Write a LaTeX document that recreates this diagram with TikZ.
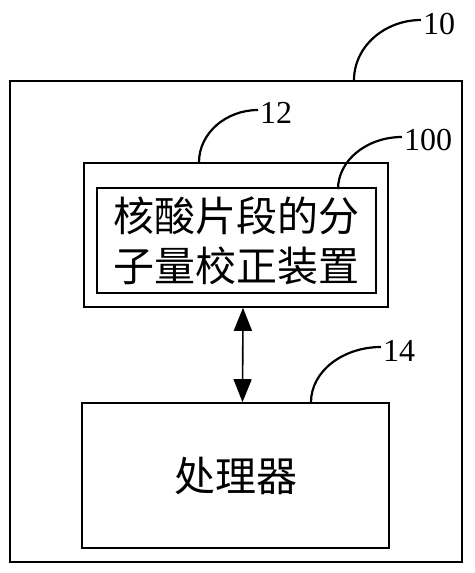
\documentclass[tikz,border=0pt]{standalone}
\usepackage{fontspec}
\setmainfont{Liberation Serif}
\newfontfamily\cjk{Noto Sans CJK SC}
\usetikzlibrary{arrows.meta}
\tikzstyle{box}=[rectangle,draw=black,line width=1.6pt,inner sep=0pt]
\tikzstyle{zh}=[font=\cjk\fontsize{41}{50}\selectfont,align=center]
\tikzstyle{num}=[anchor=west,inner sep=2pt,font=\fontsize{32}{32}\selectfont]
\tikzstyle{lead}=[line width=2.2pt]
\tikzstyle{arr}=[line width=1.6pt,
  {Triangle[length=23pt,width=18pt]}-{Triangle[length=23pt,width=18pt]}]

\begin{document}
\begin{tikzpicture}[x=1pt,y=-1pt]
	\useasboundingbox (0,0) rectangle (474,573);
		\node [style=box,minimum width=452pt,minimum height=481pt] (10) at (236,321.5) {};
		\node [style=box,minimum width=304pt,minimum height=144pt] (12) at (236,235) {};
		\node [style=box,style=zh,minimum width=279pt,minimum height=105pt] (100) at (236.5,240.5) {核酸片段的分\\子量校正装置};
		\node [style=box,style=zh,minimum width=307pt,minimum height=145pt] (14) at (235.5,475.5) {处理器};
		\node [style=num] (l10) at (421,24) {10};
		\node [style=num] (l12) at (258,113) {12};
		\node [style=num] (l100) at (402,140) {100};
		\node [style=num] (l14) at (381,351) {14};
		\draw [style=arr] ([xshift=7pt]12.south) to ([xshift=7pt]14.north);
		\draw [style=lead] ([xshift=118pt]10.north) .. controls +(0,-34) and +(-36,0) .. ([yshift=4pt]l10.west);
		\draw [style=lead] ([xshift=-37pt]12.north) .. controls +(0,-29) and +(-32,0) .. ([yshift=3pt]l12.west);
		\draw [style=lead] ([xshift=101.5pt,yshift=-2pt]100.north) .. controls +(0,-29) and +(-35,0) .. ([yshift=3pt]l100.west);
		\draw [style=lead] ([xshift=75.5pt]14.north) .. controls +(0,-31) and +(-38,0) .. ([yshift=4pt]l14.west);
\end{tikzpicture}
\end{document}
